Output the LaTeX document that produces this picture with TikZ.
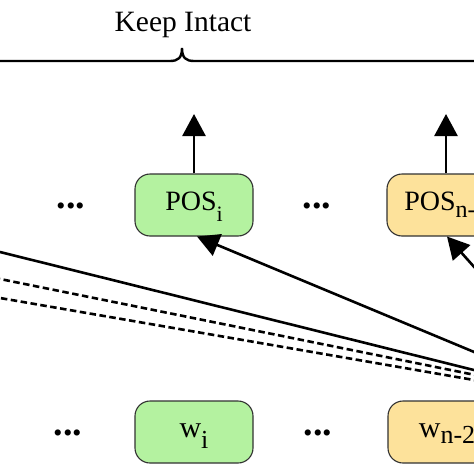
\documentclass[tikz,border=0pt]{standalone}
\usepackage{fontspec}
\setmainfont{Liberation Serif}
\usetikzlibrary{arrows.meta}
\definecolor{boxgreen}{RGB}{180,242,160}
\definecolor{boxyellow}{RGB}{253,226,155}
\definecolor{boxline}{RGB}{50,50,50}
\newcommand\mysub[3]{\smash{\raisebox{-#2pt}{\fontsize{#1}{#1}\selectfont #3}}}
\begin{document}
\begin{tikzpicture}[x=1pt,y=-1pt,
  tok/.style={draw=boxline,line width=1.1pt,rounded corners=15pt,minimum width=118pt,minimum height=62pt,inner sep=0pt,text height=18pt,text depth=7pt,font=\fontsize{28}{28}\selectfont},
  greenbox/.style={tok,fill=boxgreen},
  yellowbox/.style={tok,fill=boxyellow},
  dotsnode/.style={font=\fontsize{38}{38}\selectfont\bfseries,inner sep=0pt},
  conn/.style={line width=2.6pt},
  dconn/.style={line width=2.6pt,dash pattern=on 6.5pt off 3.5pt},
  bigarrow/.style={line width=2.6pt,-{Triangle[width=23pt,length=22pt]}}]
\useasboundingbox (0,0) rectangle (474,474);
\clip (0,0) rectangle (474,474);
\fill[white] (0,0) rectangle (474,474);
% title and brace
\node[font=\fontsize{29.5}{29.5}\selectfont,inner sep=0pt] (keep) at (183,25) {Keep Intact};
\draw[line width=2.4pt] (0,61) -- (170,61) .. controls (178,61) and (182,58) .. (182,48)
  .. controls (182,58) and (186,61) .. (194,61) -- (474,61);
% nodes
\node[greenbox] (posi) at (194,205) {POS\mysub{22}{11}{i}};
\node[yellowbox] (posn) at (446,205) {POS\mysub{24}{7}{n-1}};
\node[greenbox] (wi) at (194,432) {\fontsize{30}{30}\selectfont w\mysub{26}{11}{i}};
\node[yellowbox] (wn) at (447,432) {\fontsize{30}{30}\selectfont w\mysub{26}{6}{n-2}};
\node[dotsnode] (d1) at (71,206) {...};
\node[dotsnode] (d2) at (317,206) {...};
\node[dotsnode] (d3) at (68,433) {...};
\node[dotsnode] (d4) at (318,433) {...};
% free ends
\coordinate (oi) at (194,114);
\coordinate (on) at (446,114);
\coordinate (srcA) at (500,362.8);
\coordinate (srcB) at (500,296);
\coordinate (srcC) at (500,376.5);
\coordinate (srcD) at (500,380);
\coordinate (srcE) at (500,384.5);
\coordinate (lC) at (0,252);
\coordinate (lD) at (0,279);
\coordinate (lE) at (0,298);
% connectors
\draw[bigarrow] (posi.north) -- (oi);
\draw[bigarrow] (posn.north) -- (on);
\draw[bigarrow] (srcA) -- (197,236.5);
\draw[bigarrow] (srcB) -- (447,236.5);
\draw[conn] (srcC) -- (lC);
\draw[dconn] (srcD) -- (lD);
\draw[dconn] (srcE) -- (lE);
\end{tikzpicture}
\end{document}
